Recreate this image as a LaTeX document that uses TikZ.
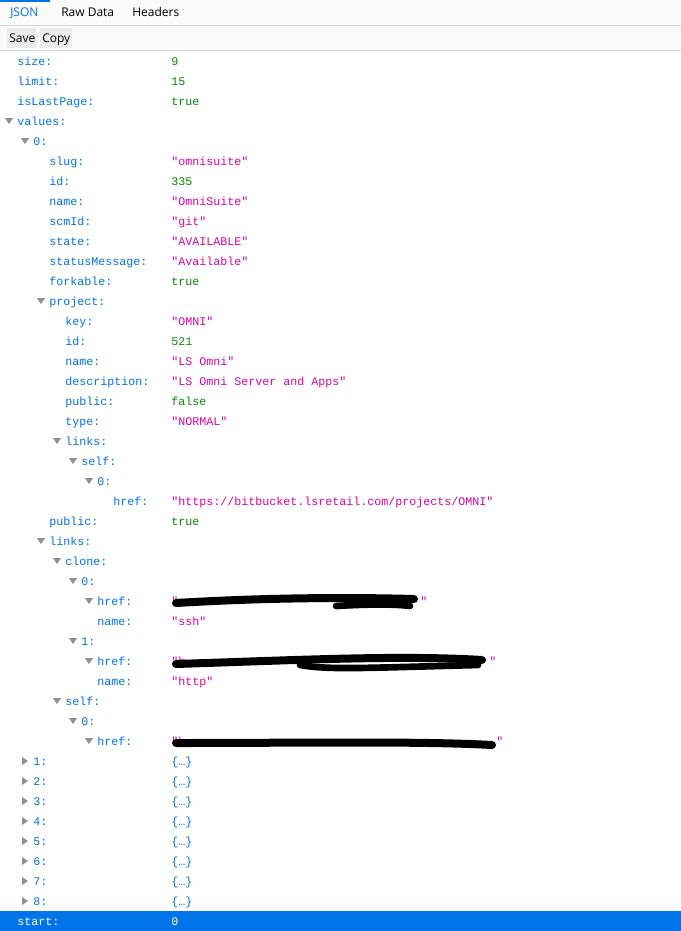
\documentclass[tikz,border=0pt]{standalone}
\usepackage{fontspec}
\setmainfont{Open Sans}
\newfontfamily\mono{Liberation Mono}
\definecolor{keyc}{HTML}{0074E8}
\definecolor{strc}{HTML}{DD00A9}
\definecolor{numc}{HTML}{058B00}
\definecolor{tric}{HTML}{8F8F8F}
\begin{document}
\begin{tikzpicture}[x=0.75pt,y=-0.75pt,
  key/.style={anchor=base west,inner sep=0,font=\mono\fontsize{8.75}{10}\selectfont,text=keyc},
  str/.style={key,text=strc},
  num/.style={key,text=numc},
  ui/.style={anchor=base west,inner sep=0,font=\fontsize{9}{10}\selectfont}]
\useasboundingbox (0,0) rectangle (681,931);
\fill[white] (0,0) rectangle (681,931);
% tab bar
\fill[black!2] (0,0) rectangle (681,25);
\draw[black!15] (0,25.5) -- (681,25.5);
\fill[keyc] (0,0) rectangle (50,2);
\node[ui,text=keyc] (tjson) at (10,17) {JSON};
\node[ui] (traw) at (61,17) {Raw Data};
\node[ui] (thead) at (132,17) {Headers};
% toolbar
\fill[black!2] (0,26) rectangle (681,50);
\draw[black!15] (0,50.5) -- (681,50.5);
\fill[black!8] (7,28) rectangle (36,48);
\fill[black!8] (40,28) rectangle (72,48);
\node[ui] (bsave) at (9,42.5) {Save};
\node[ui] (bcopy) at (42,42.5) {Copy};
% selected row
\fill[keyc] (0,911) rectangle (681,931);
\newcommand{\dtri}[2]{\fill[tric] (#1-4,#2-3) -- (#1+4,#2-3) -- (#1,#2+3) -- cycle;}
\newcommand{\rtri}[2]{\fill[tric] (#1-3,#2-4) -- (#1-3,#2+4) -- (#1+3,#2) -- cycle;}
\newcommand{\kv}[5]{\node[key] (k#1) at (#2,{65+20*#1}) {#3}; \node[#5] (v#1) at (171,{65+20*#1}) {#4};}
\newcommand{\ko}[3]{\node[key] (k#1) at (#2,{65+20*#1}) {#3};}
\kv{0}{17}{size:}{9}{num}
\kv{1}{17}{limit:}{15}{num}
\kv{2}{17}{isLastPage:}{true}{num}
\dtri{9}{121}\ko{3}{17}{values:}
\dtri{25}{141}\ko{4}{33}{0:}
\kv{5}{49}{slug:}{"omnisuite"}{str}
\kv{6}{49}{id:}{335}{num}
\kv{7}{49}{name:}{"OmniSuite"}{str}
\kv{8}{49}{scmId:}{"git"}{str}
\kv{9}{49}{state:}{"AVAILABLE"}{str}
\kv{10}{49}{statusMessage:}{"Available"}{str}
\kv{11}{49}{forkable:}{true}{num}
\dtri{41}{301}\ko{12}{49}{project:}
\kv{13}{65}{key:}{"OMNI"}{str}
\kv{14}{65}{id:}{521}{num}
\kv{15}{65}{name:}{"LS Omni"}{str}
\kv{16}{65}{description:}{"LS Omni Server and Apps"}{str}
\kv{17}{65}{public:}{false}{num}
\kv{18}{65}{type:}{"NORMAL"}{str}
\dtri{57}{441}\ko{19}{65}{links:}
\dtri{73}{461}\ko{20}{81}{self:}
\dtri{89}{481}\ko{21}{97}{0:}
\kv{22}{113}{href:}{"https://bitbucket.lsretail.com/projects/OMNI"}{str}
\kv{23}{49}{public:}{true}{num}
\dtri{41}{541}\ko{24}{49}{links:}
\dtri{57}{561}\ko{25}{65}{clone:}
\dtri{73}{581}\ko{26}{81}{0:}
\dtri{89}{601}\kv{27}{97}{href:}{"s}{str}
\node[str] (q27) at (420,605) {"};
\kv{28}{97}{name:}{"ssh"}{str}
\dtri{73}{641}\ko{29}{81}{1:}
\dtri{89}{661}\kv{30}{97}{href:}{"h}{str}
\node[str] (q30) at (489,665) {"};
\kv{31}{97}{name:}{"http"}{str}
\dtri{57}{701}\ko{32}{65}{self:}
\dtri{73}{721}\ko{33}{81}{0:}
\dtri{89}{741}\kv{34}{97}{href:}{"h}{str}
\node[str] (q34) at (496,745) {"};
% redactions
\draw[black,line width=6pt,line cap=round] (176,603) .. controls (260,598) and (340,597) .. (414,599);
\draw[black,line width=5pt,line cap=round] (336,606) .. controls (370,604) and (395,604) .. (410,606);
\draw[black,line width=6pt,line cap=round] (176,664) .. controls (300,660) and (400,655) .. (482,660);
\draw[black,line width=5pt,line cap=round] (300,665) .. controls (330,670) and (360,668) .. (478,665);
\draw[black,line width=6pt,line cap=round] (176,743) .. controls (300,743) and (420,741) .. (492,745);
\foreach \i/\n in {35/1,36/2,37/3,38/4,39/5,40/6,41/7,42/8}{
  \rtri{25}{61+20*\i}
  \node[key] (k\i) at (33,{65+20*\i}) {\n:};
  \node[key] (v\i) at (171,{65+20*\i}) {\{…\}};
}
\node[key,text=white] (k43) at (17,925) {start:};
\node[key,text=white] (v43) at (171,925) {0};
\end{tikzpicture}
\end{document}
